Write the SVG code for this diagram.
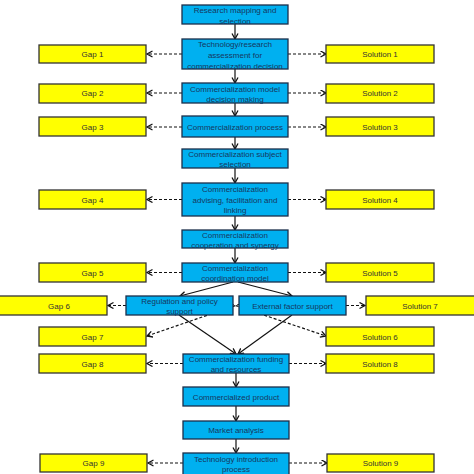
<svg xmlns="http://www.w3.org/2000/svg" width="474" height="474" viewBox="0 0 474 474">
<defs>
<marker id="ah" markerUnits="userSpaceOnUse" markerWidth="8" markerHeight="8" refX="6" refY="3.5" orient="auto">
<path d="M0.5,0.5 L6,3.5 L0.5,6.5" fill="none" stroke="#111" stroke-width="1.3"/>
</marker>
</defs>
<style>
.b{fill:#00b0f0;stroke:#1b2f4a;stroke-width:1.3}
.y{fill:#ffff00;stroke:#333;stroke-width:1.3}
.t{font-family:"Liberation Sans",Arial,sans-serif;font-size:8px;fill:#17375e;text-anchor:middle}
.g{font-family:"Liberation Sans",Arial,sans-serif;font-size:8px;fill:#333;text-anchor:middle}
.s{fill:none;stroke:#111;stroke-width:1.2;marker-end:url(#ah)}
.d{fill:none;stroke:#111;stroke-width:1.2;stroke-dasharray:3,2;marker-end:url(#ah)}
</style>
<rect width="474" height="474" fill="#fff"/>
<g id="connectors">
<path class="s" d="M235,24V39"/>
<path class="s" d="M235,69V83"/>
<path class="s" d="M235,103V116"/>
<path class="s" d="M235,137V149"/>
<path class="s" d="M235,168V183"/>
<path class="s" d="M235,216V230"/>
<path class="s" d="M235,248V263"/>
<path class="s" d="M233,282L180,296"/>
<path class="s" d="M238,282L292,296"/>
<path class="s" d="M179,315L236,354"/>
<path class="s" d="M292,315L238,354"/>
<path class="s" d="M236,373V387"/>
<path class="s" d="M236,406V421"/>
<path class="s" d="M236,439V453"/>
<path class="d" d="M182,54H147"/>
<path class="d" d="M288,54H326"/>
<path class="d" d="M182,93H147"/>
<path class="d" d="M288,93H326"/>
<path class="d" d="M182,127H147"/>
<path class="d" d="M288,127H326"/>
<path class="d" d="M182,199.5H147"/>
<path class="d" d="M288,199.5H326"/>
<path class="d" d="M182,272.5H147"/>
<path class="d" d="M288,272.5H326"/>
<path class="d" d="M126,305.5H108"/>
<path class="d" d="M346,305.5H365"/>
<path class="d" d="M240,304L147,336"/>
<path class="d" d="M231,304L326,336"/>
<path class="d" d="M183,363.5H147"/>
<path class="d" d="M289,363.5H326"/>
<path class="d" d="M183,463H148"/>
<path class="d" d="M289,463H327"/>
</g>
<g id="n1"><rect class="b" x="182" y="5" width="106" height="19"/><text class="t" x="235" y="13">Research mapping and</text><text class="t" x="235" y="24">selection</text></g>
<g id="n2"><rect class="b" x="182" y="39" width="106" height="30"/><text class="t" x="235" y="47">Technology/research</text><text class="t" x="235" y="58">assessment for</text><text class="t" x="235" y="69">commercialization decision</text></g>
<g id="n3"><rect class="b" x="182" y="83" width="106" height="20"/><text class="t" x="235" y="92">Commercialization model</text><text class="t" x="235" y="102">decision making</text></g>
<g id="n4"><rect class="b" x="182" y="116" width="106" height="21"/><text class="t" x="235" y="130">Commercialization process</text></g>
<g id="n5"><rect class="b" x="182" y="149" width="106" height="19"/><text class="t" x="235" y="157">Commercialization subject</text><text class="t" x="235" y="167">selection</text></g>
<g id="n6"><rect class="b" x="182" y="183" width="106" height="33"/><text class="t" x="235" y="192">Commercialization</text><text class="t" x="235" y="203">advising, facilitation and</text><text class="t" x="235" y="213">linking</text></g>
<g id="n7"><rect class="b" x="182" y="230" width="106" height="18"/><text class="t" x="235" y="238">Commercialization</text><text class="t" x="235" y="248">cooperation and synergy</text></g>
<g id="n8"><rect class="b" x="182" y="263" width="106" height="19"/><text class="t" x="235" y="271">Commercialization</text><text class="t" x="235" y="281">coordination model</text></g>
<g id="n9"><rect class="b" x="126" y="296" width="107" height="19"/><text class="t" x="179.5" y="304">Regulation and policy</text><text class="t" x="179.5" y="314">support</text></g>
<g id="n10"><rect class="b" x="239" y="296" width="107" height="19"/><text class="t" x="292.5" y="309">External factor support</text></g>
<g id="n11"><rect class="b" x="183" y="354" width="106" height="19"/><text class="t" x="236" y="362">Commercialization funding</text><text class="t" x="236" y="372">and resources</text></g>
<g id="n12"><rect class="b" x="183" y="387" width="106" height="19"/><text class="t" x="236" y="400">Commercialized product</text></g>
<g id="n13"><rect class="b" x="183" y="421" width="106" height="18"/><text class="t" x="236" y="433">Market analysis</text></g>
<g id="n14"><rect class="b" x="183" y="453" width="106" height="24"/><text class="t" x="236" y="462">Technology introduction</text><text class="t" x="236" y="472">process</text></g>
<g id="gap1"><rect class="y" x="39" y="45" width="107" height="18"/><text class="g" x="92.5" y="57">Gap 1</text></g>
<g id="gap2"><rect class="y" x="39" y="84" width="107" height="19"/><text class="g" x="92.5" y="96">Gap 2</text></g>
<g id="gap3"><rect class="y" x="39" y="117" width="107" height="19"/><text class="g" x="92.5" y="130">Gap 3</text></g>
<g id="gap4"><rect class="y" x="39" y="190" width="107" height="19"/><text class="g" x="92.5" y="202.5">Gap 4</text></g>
<g id="gap5"><rect class="y" x="39" y="263" width="107" height="19"/><text class="g" x="92.5" y="275.5">Gap 5</text></g>
<g id="gap6"><rect class="y" x="-1" y="296" width="108" height="19"/><text class="g" x="59" y="308.5">Gap 6</text></g>
<g id="gap7"><rect class="y" x="39" y="327" width="107" height="19"/><text class="g" x="92.5" y="339.5">Gap 7</text></g>
<g id="gap8"><rect class="y" x="39" y="354" width="107" height="19"/><text class="g" x="92.5" y="366.5">Gap 8</text></g>
<g id="gap9"><rect class="y" x="40" y="454" width="107" height="18"/><text class="g" x="93.5" y="466">Gap 9</text></g>
<g id="sol1"><rect class="y" x="326" y="45" width="108" height="18"/><text class="g" x="380" y="57">Solution 1</text></g>
<g id="sol2"><rect class="y" x="326" y="84" width="108" height="19"/><text class="g" x="380" y="96">Solution 2</text></g>
<g id="sol3"><rect class="y" x="326" y="117" width="108" height="19"/><text class="g" x="380" y="130">Solution 3</text></g>
<g id="sol4"><rect class="y" x="326" y="190" width="108" height="19"/><text class="g" x="380" y="202.5">Solution 4</text></g>
<g id="sol5"><rect class="y" x="326" y="263" width="108" height="19"/><text class="g" x="380" y="275.5">Solution 5</text></g>
<g id="sol7"><rect class="y" x="366" y="296" width="109" height="19"/><text class="g" x="420" y="308.5">Solution 7</text></g>
<g id="sol6"><rect class="y" x="326" y="327" width="108" height="19"/><text class="g" x="380" y="339.5">Solution 6</text></g>
<g id="sol8"><rect class="y" x="326" y="354" width="108" height="19"/><text class="g" x="380" y="366.5">Solution 8</text></g>
<g id="sol9"><rect class="y" x="327" y="454" width="107" height="18"/><text class="g" x="380.5" y="466">Solution 9</text></g>
</svg>
